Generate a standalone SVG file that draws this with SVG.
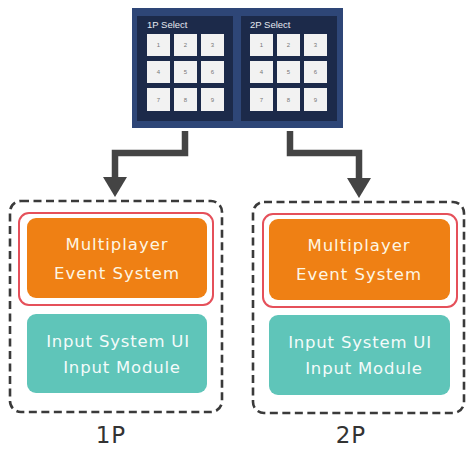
<svg xmlns="http://www.w3.org/2000/svg" width="474" height="451" viewBox="0 0 474 451">
<defs>
<style>
.btn{fill:#f2f2f2;}
.num{font-family:"Liberation Sans",Arial,sans-serif;font-size:6px;fill:#777;text-anchor:middle;}
.ttl{font-family:"Liberation Sans",Arial,sans-serif;font-size:9.5px;fill:#e4e8f0;}
.inner{fill:#1c2a4a;}
.dash{fill:none;stroke:#3a3a3a;stroke-width:2.6;stroke-dasharray:8 4.5;}
.red{fill:#fff;stroke:#e5505a;stroke-width:2;}
.orange{fill:#ef8014;}
.teal{fill:#5fc5b9;}
.lbl{font-family:"DejaVu Sans",sans-serif;font-size:16.5px;fill:#fdf6e3;text-anchor:middle;letter-spacing:1px;}
.lblt{font-family:"DejaVu Sans",sans-serif;font-size:16.5px;fill:#f4fbfa;text-anchor:middle;letter-spacing:0.8px;}
.pl{font-family:"DejaVu Sans",sans-serif;font-size:23px;fill:#333;text-anchor:middle;letter-spacing:1px;}
.conn{fill:none;stroke:#444;stroke-width:6.5;}
.head{fill:#444;}
</style>
</defs>
<g id="select-panel">
<rect x="132" y="8" width="211" height="120" fill="#2e4677"/>
<rect class="inner" x="137" y="16" width="96" height="105"/>
<rect class="inner" x="241" y="16" width="96" height="105"/>
<text class="ttl" x="147" y="28">1P Select</text>
<text class="ttl" x="250" y="28">2P Select</text>
<rect class="btn" x="147" y="34" width="23" height="22"/>
<rect class="btn" x="174" y="34" width="23" height="22"/>
<rect class="btn" x="201" y="34" width="23" height="22"/>
<rect class="btn" x="147" y="61" width="23" height="22"/>
<rect class="btn" x="174" y="61" width="23" height="22"/>
<rect class="btn" x="201" y="61" width="23" height="22"/>
<rect class="btn" x="147" y="88" width="23" height="23"/>
<rect class="btn" x="174" y="88" width="23" height="23"/>
<rect class="btn" x="201" y="88" width="23" height="23"/>
<text class="num" x="158.5" y="47">1</text>
<text class="num" x="185.5" y="47">2</text>
<text class="num" x="212.5" y="47">3</text>
<text class="num" x="158.5" y="74">4</text>
<text class="num" x="185.5" y="74">5</text>
<text class="num" x="212.5" y="74">6</text>
<text class="num" x="158.5" y="101.5">7</text>
<text class="num" x="185.5" y="101.5">8</text>
<text class="num" x="212.5" y="101.5">9</text>
<rect class="btn" x="250" y="34" width="23" height="22"/>
<rect class="btn" x="277" y="34" width="23" height="22"/>
<rect class="btn" x="304" y="34" width="23" height="22"/>
<rect class="btn" x="250" y="61" width="23" height="22"/>
<rect class="btn" x="277" y="61" width="23" height="22"/>
<rect class="btn" x="304" y="61" width="23" height="22"/>
<rect class="btn" x="250" y="88" width="23" height="23"/>
<rect class="btn" x="277" y="88" width="23" height="23"/>
<rect class="btn" x="304" y="88" width="23" height="23"/>
<text class="num" x="261.5" y="47">1</text>
<text class="num" x="288.5" y="47">2</text>
<text class="num" x="315.5" y="47">3</text>
<text class="num" x="261.5" y="74">4</text>
<text class="num" x="288.5" y="74">5</text>
<text class="num" x="315.5" y="74">6</text>
<text class="num" x="261.5" y="101.5">7</text>
<text class="num" x="288.5" y="101.5">8</text>
<text class="num" x="315.5" y="101.5">9</text>
</g>
<g id="connectors">
<path class="conn" d="M185,131 V153 H115 V178"/>
<polygon class="head" points="103,177 127,177 115,197"/>
<path class="conn" d="M290,131 V153 H359 V179"/>
<polygon class="head" points="347,178 371,178 359,198"/>
</g>
<g id="player1">
<rect class="dash" x="10" y="201" width="212" height="211" rx="11"/>
<rect class="red" x="19" y="213" width="194" height="92" rx="10"/>
<rect class="orange" x="27" y="218" width="180" height="80" rx="9"/>
<text class="lbl" x="117" y="250">Multiplayer</text>
<text class="lbl" x="117" y="279">Event System</text>
<rect class="teal" x="27" y="314" width="180" height="79" rx="9"/>
<text class="lblt" x="118" y="347">Input System UI</text>
<text class="lblt" x="122" y="373">Input Module</text>
<text class="pl" x="111" y="443">1P</text>
</g>
<g id="player2">
<rect class="dash" x="253" y="202" width="211" height="211" rx="11"/>
<rect class="red" x="263" y="214" width="194" height="93" rx="10"/>
<rect class="orange" x="269" y="219" width="181" height="81" rx="9"/>
<text class="lbl" x="359" y="251">Multiplayer</text>
<text class="lbl" x="359" y="280">Event System</text>
<rect class="teal" x="269" y="315" width="181" height="80" rx="9"/>
<text class="lblt" x="360" y="348">Input System UI</text>
<text class="lblt" x="364" y="374">Input Module</text>
<text class="pl" x="351" y="443">2P</text>
</g>
</svg>
